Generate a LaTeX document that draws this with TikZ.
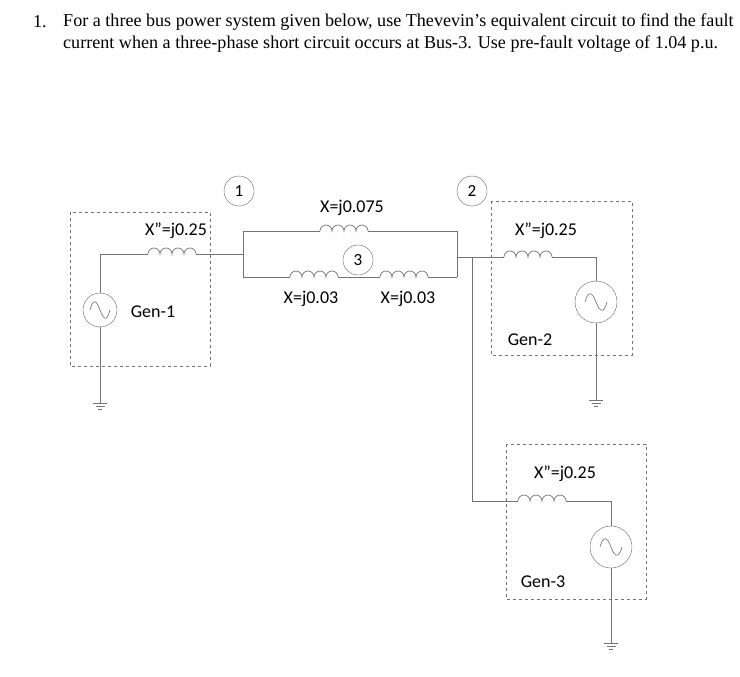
\documentclass[tikz,border=0pt]{standalone}
\usepackage{fontspec}
\setmainfont{Liberation Serif}
\newfontfamily\labf{Carlito}
\begin{document}
\begin{tikzpicture}[x=1pt,y=-1pt,
  wire/.style={draw=black!55,line width=0.7pt},
  box/.style={draw=black!55,dashed,line width=0.6pt},
  bus/.style={circle,draw=black!60,minimum size=30pt,inner sep=0pt,font=\labf\fontsize{17}{19}\selectfont},
  gen/.style={circle,draw=black!60,inner sep=0pt},
  lab/.style={font=\labf\fontsize{18}{20}\selectfont,inner sep=0pt},
  hdr/.style={font=\fontsize{18.1}{21}\selectfont,inner sep=0pt,anchor=west}]
\useasboundingbox (0,0) rectangle (740,677);
\newcommand{\coil}[2]{\draw[wire] (#1) \foreach \k in {1,...,4}{ arc[start angle=180,end angle=0,radius=6pt]};}
% header
\node[hdr] (n1) at (33,22) {1.};
\node[hdr] (h1) at (63,22) {For a three bus power system given below, use Thevevin’s equivalent circuit to find the fault};
\node[hdr] (h2) at (63,44) {current when a three-phase short circuit occurs at Bus-3. Use pre-fault voltage of 1.04 p.u.};
% boxes
\draw[box] (70,212) rectangle (210,366);
\draw[box] (491,201) rectangle (632,355);
\draw[box] (506,444) rectangle (646,599);
% generators
\node[gen,minimum size=34pt] (g1) at (100,310) {};
\node[gen,minimum size=42pt] (g2) at (596,302) {};
\node[gen,minimum size=42pt] (g3) at (611,547) {};
\foreach \g/\s in {g1/10,g2/11,g3/11}{
  \draw[black!60,line width=0.6pt] ([xshift=-\s pt]\g.center) .. controls +(3,-11) and +(-4,-11) .. (\g.center) .. controls +(4,11) and +(-3,11) .. ([xshift=\s pt]\g.center);}
% buses
\node[bus] (b1) at (239,191) {1};
\node[bus] (b2) at (472,191) {2};
\node[bus] (b3) at (358,260) {3};
% gen 1 branch
\coordinate (c1) at (148,254);
\draw[wire] (g1.north) |- (c1);
\coil{c1}{}
\draw[wire] (196,254) -- (243,254);
% parallel lines
\draw[wire] (243,231) -- (243,277);
\draw[wire] (457,231) -- (457,277);
\draw[wire] (243,231) -- (320,231); \coil{320,231}{} \draw[wire] (368,231) -- (457,231);
\draw[wire] (243,277) -- (290,277); \coil{290,277}{} \draw[wire] (338,277) -- (380,277); \coil{380,277}{} \draw[wire] (428,277) -- (457,277);
% gen 2 branch
\draw[wire] (457,257) -- (504,257); \coil{504,257}{} \draw[wire] (552,257) -| (g2.north);
% gen 3 branch
\draw[wire] (472,257) |- (518,501); \coil{518,501}{} \draw[wire] (566,501) -| (g3.north);
% grounds
\foreach \g/\x/\y in {g1/100/403,g2/596/400,g3/611/643}{
  \draw[wire] (\g.south) -- (\x,\y);
  \draw[wire] (\x-7,\y) -- (\x+7,\y) (\x-4.5,\y+3) -- (\x+4.5,\y+3) (\x-2,\y+6) -- (\x+2,\y+6);}
% labels
\node[lab] (l1) at (176,231) {X”=j0.25};
\node[lab] (l2) at (546,231) {X”=j0.25};
\node[lab] (l3) at (565,474) {X”=j0.25};
\node[lab] (l4) at (352,208) {X=j0.075};
\node[lab] (l5) at (311,299) {X=j0.03};
\node[lab] (l6) at (408,299) {X=j0.03};
\node[lab] (G1) at (153,312) {Gen-1};
\node[lab] (G2) at (530,340) {Gen-2};
\node[lab] (G3) at (543,582) {Gen-3};
\end{tikzpicture}
\end{document}
